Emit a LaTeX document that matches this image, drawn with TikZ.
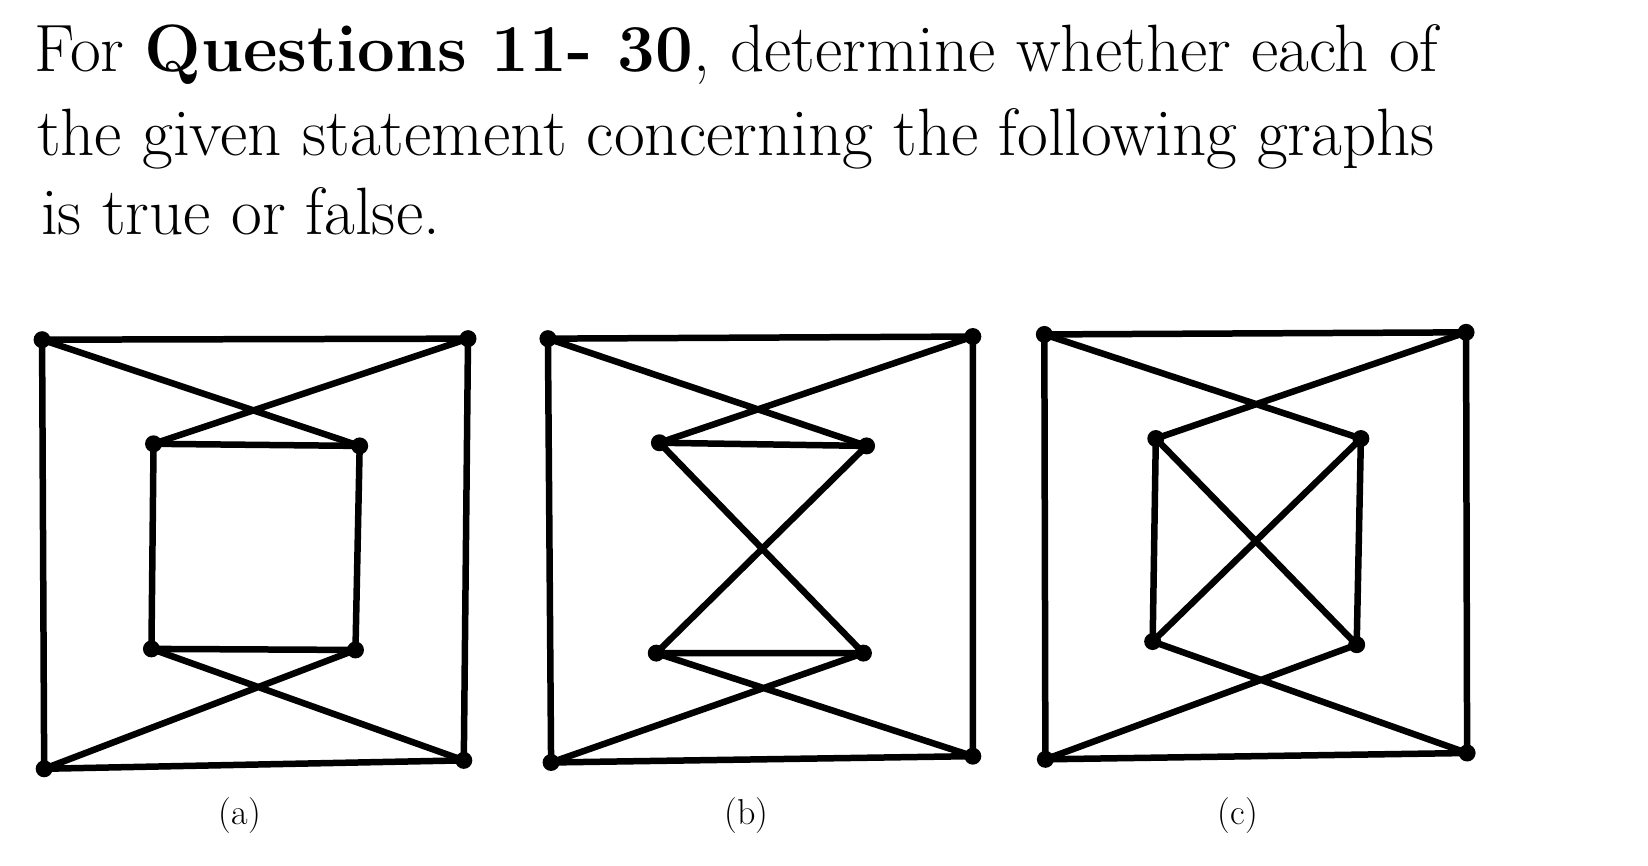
\documentclass[tikz,border=0pt]{standalone}
\begin{document}
\begin{tikzpicture}[x=1.052pt,y=-1.052pt,
  e/.style={line width=6.5pt, line cap=round, line join=round},
  v/.style={circle, fill=black, inner sep=0pt, minimum size=17pt},
  tx/.style={anchor=base west, inner sep=0pt, font=\fontsize{67}{72}\selectfont},
  lb/.style={font=\fontsize{36}{40}\selectfont}]
\useasboundingbox (0,0) rectangle (1567,823);
\node[tx] (t1) at (33,68) {For \textbf{Questions 11- 30}, determine whether each of};
\node[tx] (t2) at (35,148) {the given statement concerning the following graphs};
\node[tx] (t3) at (39,223) {is true or false.};
\foreach \n/\p in {aTL/{(40,323)},aTR/{(445,322)},aBL/{(42,731)},aBR/{(441,723)},
  ai1/{(146,422)},ai2/{(342,424)},ai3/{(144,617)},ai4/{(338,618)},
  bTL/{(521,322)},bTR/{(925,320)},bBL/{(524,725)},bBR/{(925,719)},
  bi1/{(627,421)},bi2/{(824,424)},bi3/{(624,621)},bi4/{(821,621)},
  cTL/{(993,318)},cTR/{(1394,316)},cBL/{(994,722)},cBR/{(1395,716)},
  ci1/{(1099,417)},ci2/{(1294,417)},ci3/{(1096,610)},ci4/{(1290,613)}}
  \node[v] (\n) at \p {};
\draw[e] (aTL.center)--(aTR.center)--(aBR.center)--(aBL.center)--cycle;
\draw[e] (aTL.center)--(ai2.center) (aTR.center)--(ai1.center);
\draw[e] (ai1.center)--(ai2.center)--(ai4.center)--(ai3.center)--cycle;
\draw[e] (ai3.center)--(aBR.center) (ai4.center)--(aBL.center);
\draw[e] (bTL.center)--(bTR.center)--(bBR.center)--(bBL.center)--cycle;
\draw[e] (bTL.center)--(bi2.center) (bTR.center)--(bi1.center);
\draw[e] (bi1.center)--(bi2.center) (bi3.center)--(bi4.center) (bi1.center)--(bi4.center) (bi2.center)--(bi3.center);
\draw[e] (bi3.center)--(bBR.center) (bi4.center)--(bBL.center);
\draw[e] (cTL.center)--(cTR.center)--(cBR.center)--(cBL.center)--cycle;
\draw[e] (cTL.center)--(ci2.center) (cTR.center)--(ci1.center);
\draw[e] (ci1.center)--(ci3.center) (ci2.center)--(ci4.center) (ci1.center)--(ci4.center) (ci2.center)--(ci3.center);
\draw[e] (ci3.center)--(cBR.center) (ci4.center)--(cBL.center);
\node[lb] (la) at (228,775) {(a)};
\node[lb] (lbb) at (710,775) {(b)};
\node[lb] (lc) at (1177,775) {(c)};
\end{tikzpicture}
\end{document}
